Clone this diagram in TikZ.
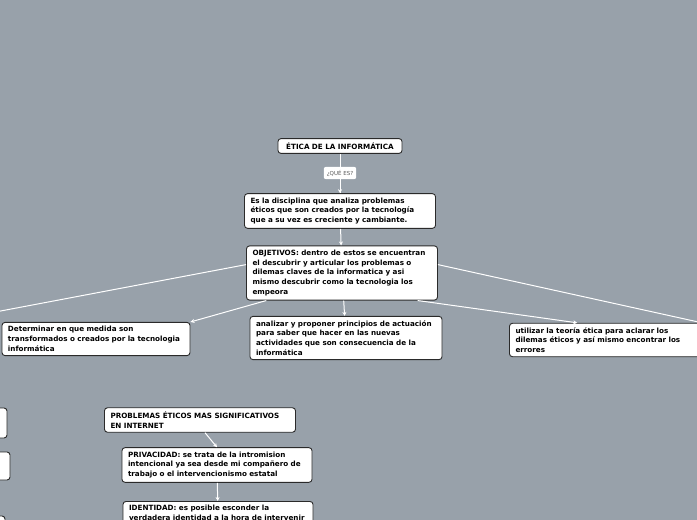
\documentclass[tikz,border=0pt]{standalone}
\usepackage{fontspec}
\setmainfont{DejaVu Sans}
\usetikzlibrary{arrows.meta}
\definecolor{bg}{HTML}{98A1AA}
\definecolor{bd}{HTML}{2A2A2A}
\hyphenpenalty=10000
\exhyphenpenalty=10000
\begin{document}
\begin{tikzpicture}[x=1pt,y=-1pt,
  box/.style={draw=bd,line width=0.9pt,fill=white,rounded corners=3pt,align=left,font=\fontsize{7.2}{9.8}\selectfont\bfseries,inner xsep=6pt,inner ysep=4pt},
  lbl/.style={fill=white,rounded corners=2pt,font=\fontsize{5.5}{7}\selectfont,text=gray!70!black,inner sep=3pt},
  con/.style={draw=white,line width=1pt,-{Stealth[length=4pt,width=4pt]}},
  ln/.style={draw=white,line width=1pt}]
\fill[bg] (0,0) rectangle (697,520);
\useasboundingbox (0,0) rectangle (697,520);
\begin{scope}
\clip (0,0) rectangle (697,520);
\node[box,text width=112pt,align=center] (t) at (340,146) {ÉTICA DE LA INFORMÁTICA};
\node[box,text width=179pt] (a) at (340,211) {Es la disciplina que analiza problemas éticos que son creados por la tecnología que a su vez es creciente y cambiante.};
\node[box,text width=179pt] (o) at (342,273) {OBJETIVOS: dentro de estos se encuentran el descubrir y articular los problemas o dilemas claves de la informatica y asi mismo descubrir como la tecnologia los empeora};
\node[box,text width=176pt] (l) at (96,339) {Determinar en que medida son transformados o creados por la tecnologia informática};
\node[box,text width=180pt] (m) at (346,338) {analizar y proponer principios de actuación para saber que hacer en las nuevas actividades que son consecuencia de la informática};
\node[box,text width=183pt] (r) at (607,340) {utilizar la teoría ética para aclarar los dilemas éticos y así mismo encontrar los errores};
\node[box,text width=179pt] (p) at (200,420) {PROBLEMAS ÉTICOS MAS SIGNIFICATIVOS EN INTERNET};
\node[box,text width=178pt] (v) at (217,465) {PRIVACIDAD: se trata de la intromision intencional ya sea desde mi compañero de trabajo o el intervencionismo estatal};
\node[box,text width=178pt,anchor=north] (d) at (218,501) {IDENTIDAD: es posible esconder la verdadera identidad a la hora de intervenir en la red};
\draw[draw=bd,line width=0.9pt,fill=white,rounded corners=3pt] (-20,408) rectangle (7,438);
\draw[draw=bd,line width=0.9pt,fill=white,rounded corners=3pt] (-20,452) rectangle (10,480);
\draw[draw=bd,line width=0.9pt,fill=white,rounded corners=3pt] (-20,516) rectangle (5,540);
\coordinate (lo) at (-10,313);
\coordinate (ro) at (712,325);
\draw[ln] (t) -- (a);
\node[lbl] (q) at (340,173) {¿QUÉ ES?};
\draw[con] (q) -- (a);
\draw[con] (a) -- (o);
\draw[con] (o) -- (m);
\draw[con] (o.200) -- (l.north east);
\draw[con] (o.340) -- (r.150);
\draw[ln] (o.175) -- (lo);
\draw[ln] (o.5) -- (ro);
\draw[con] (p.south) ++(5,0) coordinate (ps) (ps) -- (v.north);
\draw[con] (v) -- (d);
\end{scope}
\end{tikzpicture}
\end{document}
